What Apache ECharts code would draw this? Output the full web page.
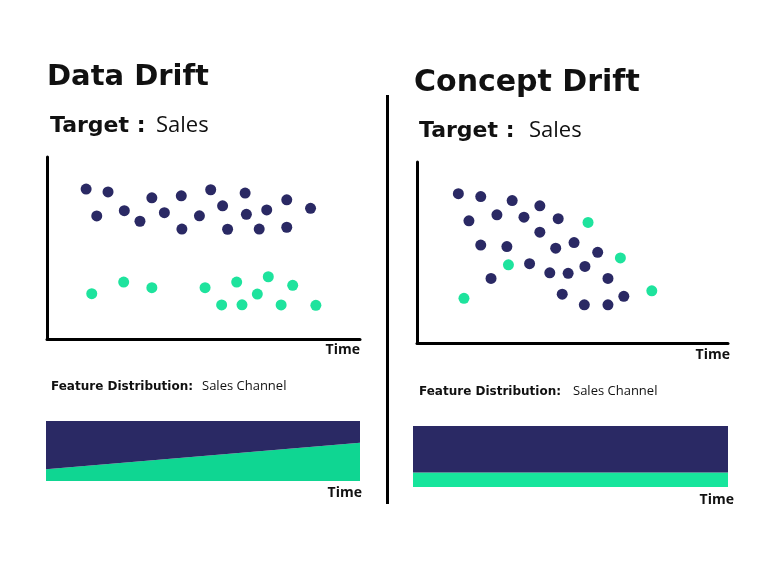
<!DOCTYPE html>
<html>
<head>
<meta charset="utf-8">
<script src="https://cdn.jsdelivr.net/npm/echarts@6/dist/echarts.min.js"></script>
<style>
  html, body { margin: 0; padding: 0; background: #fff; }
  #main { width: 768px; height: 576px; }
</style>
</head>
<body>
<div id="main"></div>
<script>
// Data Drift: target (sales) over time, x = time, y = sales (0-100)
const dataDriftNavy = [
  [12.5, 82.4], [19.5, 80.8], [15.9, 67.6], [24.7, 70.5], [29.7, 64.7],
  [33.5, 77.6], [37.5, 69.4], [42.9, 78.7], [43.1, 60.4], [48.7, 67.7],
  [52.3, 82.0], [56.1, 73.2], [57.7, 60.3], [63.3, 80.2], [63.7, 68.5],
  [67.8, 60.4], [70.2, 70.9], [76.6, 76.5], [76.6, 61.4], [84.2, 71.8]
];
const dataDriftGreen = [
  [14.3, 24.9], [24.5, 31.3], [33.5, 28.2], [50.5, 28.2], [55.8, 18.7],
  [60.6, 31.3], [62.3, 18.8], [67.2, 24.7], [70.7, 34.2], [74.8, 18.7],
  [78.5, 29.5], [85.9, 18.5]
];
// Concept Drift
const conceptDriftNavy = [
  [13.3, 82.5], [20.5, 80.9], [30.6, 78.7], [39.5, 75.8], [16.7, 67.5],
  [25.7, 70.8], [34.4, 69.5], [45.4, 68.7], [39.5, 61.2], [20.5, 54.1],
  [28.9, 53.3], [44.6, 52.4], [50.5, 55.5], [58.1, 50.1], [36.2, 43.8],
  [42.7, 38.8], [48.6, 38.5], [54.0, 42.3], [61.4, 35.7], [23.8, 35.7],
  [46.7, 27.0], [53.8, 21.1], [61.4, 21.1], [66.5, 25.8]
];
const conceptDriftGreen = [
  [55.0, 66.6], [65.4, 47.0], [29.4, 43.2], [15.1, 24.7], [75.5, 28.8]
];
// Feature distribution (share of sales channel, %), start -> end of period
const timeCats = ['start', 'end'];
const dataDriftShareGreen = [19.5, 63.8];
const dataDriftShareNavy = [80.5, 36.2];
const conceptDriftShareGreen = [23.7, 23.7];
const conceptDriftShareNavy = [76.3, 76.3];

const NAVY = '#2a2964';
const GREEN = '#1ee39d';
const HEAD = '"DejaVu Sans", sans-serif';
const BODY = '"Open Sans", sans-serif';

const chart = echarts.init(document.getElementById('main'));

function scatterX(gi, gap, pad) {
  return {
    type: 'value', gridIndex: gi, min: 0, max: 100,
    name: 'Time', nameLocation: 'end', nameGap: gap,
    nameTextStyle: { color: '#111', fontWeight: 'bold', fontSize: 14, fontFamily: BODY,
      align: 'right', verticalAlign: 'top', padding: [pad, 0, 0, 0] },
    axisLine: { show: true, lineStyle: { color: '#000', width: 3 } },
    axisTick: { show: false }, axisLabel: { show: false }, splitLine: { show: false }
  };
}
function scatterY(gi) {
  return {
    type: 'value', gridIndex: gi, min: 0, max: 100,
    axisLine: { show: true, lineStyle: { color: '#000', width: 3 } },
    axisTick: { show: false }, axisLabel: { show: false }, splitLine: { show: false }
  };
}
function areaX(gi, gap, pad) {
  return {
    type: 'category', gridIndex: gi, data: timeCats, boundaryGap: false,
    name: 'Time', nameLocation: 'end', nameGap: gap,
    nameTextStyle: { color: '#111', fontWeight: 'bold', fontSize: 14, fontFamily: BODY,
      align: 'right', verticalAlign: 'top', padding: [pad, 0, 0, 0] },
    axisLine: { show: false }, axisTick: { show: false },
    axisLabel: { show: false }, splitLine: { show: false }
  };
}
function areaY(gi) {
  return {
    type: 'value', gridIndex: gi, min: 0, max: 100, show: false
  };
}
function dots(name, data, gi, color) {
  return {
    name: name, type: 'scatter', xAxisIndex: gi, yAxisIndex: gi,
    data: data, symbolSize: 11, itemStyle: { color: color, opacity: 1 },
    silent: true
  };
}
function band(name, data, gi, stack, color) {
  return {
    name: name, type: 'line', xAxisIndex: gi, yAxisIndex: gi, stack: stack,
    data: data, symbol: 'none', lineStyle: { width: 0 },
    areaStyle: { color: color, opacity: 1 }, silent: true
  };
}

function txt(x, y, text, size, weight, font) {
  return {
    type: 'text', left: x, top: y,
    style: { text: text, fontSize: size, fontWeight: weight, fontFamily: font, fill: '#111' }
  };
}

const option = {
  backgroundColor: '#fff',
  animation: false,
  grid: [
    { left: 47, top: 157, width: 313, height: 182 },
    { left: 417, top: 162, width: 311, height: 181 },
    { left: 46, top: 421, width: 314, height: 60 },
    { left: 413, top: 426, width: 315, height: 61 }
  ],
  xAxis: [scatterX(0, 0, 4), scatterX(1, 2, 5), areaX(2, 2, 5), areaX(3, 6, 6)],
  yAxis: [scatterY(0), scatterY(1), areaY(2), areaY(3)],
  series: [
    dots('Sales (high)', dataDriftNavy, 0, NAVY),
    dots('Sales (low)', dataDriftGreen, 0, GREEN),
    dots('Sales (high)', conceptDriftNavy, 1, NAVY),
    dots('Sales (low)', conceptDriftGreen, 1, GREEN),
    band('Channel B', dataDriftShareGreen, 2, 'dd', '#0fd692'),
    band('Channel A', dataDriftShareNavy, 2, 'dd', NAVY),
    band('Channel B', conceptDriftShareGreen, 3, 'cd', '#17e59c'),
    band('Channel A', conceptDriftShareNavy, 3, 'cd', NAVY)
  ],
  graphic: [
    txt(47, 63, 'Data Drift', 29, 'bold', HEAD),
    txt(414, 68, 'Concept Drift', 30, 'bold', HEAD),
    txt(50, 115, 'Target :', 22, 'bold', HEAD),
    txt(156, 115, 'Sales', 22, 'normal', BODY),
    txt(419, 120, 'Target :', 22, 'bold', HEAD),
    txt(529, 120, 'Sales', 22, 'normal', BODY),
    txt(51, 381, 'Feature Distribution:', 12, 'bold', HEAD),
    txt(202, 380, 'Sales Channel', 13, 'normal', BODY),
    txt(419, 386, 'Feature Distribution:', 12, 'bold', HEAD),
    txt(573, 385, 'Sales Channel', 13, 'normal', BODY),
    {
      type: 'line', shape: { x1: 387.5, y1: 95, x2: 387.5, y2: 504 },
      style: { stroke: '#000', lineWidth: 3 }
    }
  ]
};
chart.setOption(option);
</script>
</body>
</html>
